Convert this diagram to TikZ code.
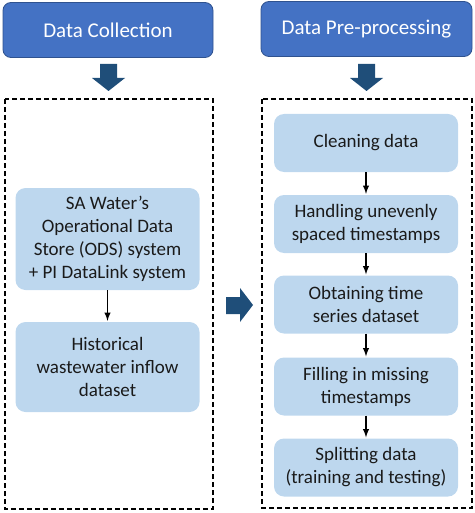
\documentclass[tikz,border=0pt]{standalone}
\usepackage{fontspec}
\setmainfont{Carlito}
\usepackage{tikz}
\usetikzlibrary{arrows}

\definecolor{headblue}{HTML}{4472C4}
\definecolor{headline}{HTML}{2F528F}
\definecolor{arrowblue}{HTML}{1F4E79}
\definecolor{stepfill}{HTML}{BDD7EE}
\definecolor{textdark}{HTML}{1A1A1A}

\tikzset{
  header/.style={rectangle, rounded corners=8pt, fill=headblue, draw=headline,
    line width=0.8pt, text=white, font=\fontsize{21}{25}\selectfont,
    minimum width=210pt, minimum height=55pt, inner sep=0pt},
  stepbox/.style={rectangle, rounded corners=10pt, fill=stepfill, text=textdark,
    font=\fontsize{19}{23}\selectfont, align=center,
    minimum width=184pt, minimum height=58pt, inner sep=0pt},
  frame/.style={dashed, dash pattern=on 5pt off 3pt, line width=1.8pt},
  link/.style={-latex, line width=1.8pt, shorten >=1pt}
}

\begin{document}
\begin{tikzpicture}[x=1pt,y=-1pt]
  \useasboundingbox (0,0) rectangle (474,513);
  % headers
  \node[header] (collect) at (108,30) {Data Collection};
  \node[header, minimum width=211pt] (prep) at (366.5,29) {Data Pre-processing};
  % block arrows
  \fill[arrowblue] (100,64) -- (117,64) -- (117,78) -- (125,78) -- (108.5,91)
    -- (92,78) -- (100,78) -- cycle;
  \fill[arrowblue] (358,64) -- (375,64) -- (375,78) -- (383,78) -- (366.5,91)
    -- (350,78) -- (358,78) -- cycle;
  \fill[arrowblue] (226,297) -- (240,297) -- (240,288) -- (253,305) -- (240,322)
    -- (240,314) -- (226,314) -- cycle;
  % dashed frames
  \draw[frame] (5,99) rectangle (213,509);
  \draw[frame] (262,99) rectangle (472,508);
  % left column
  \node[stepbox, minimum height=102pt] (ods) at (107.5,239)
    {SA Water's\\Operational Data\\Store (ODS) system\\+ PI DataLink system};
  \node[stepbox, minimum height=90pt] (hist) at (107.5,367)
    {Historical\\wastewater inflow\\dataset};
  \draw[link] (ods) -- (hist);
  % right column
  \node[stepbox] (clean) at (366,143) {Cleaning data};
  \node[stepbox] (uneven) at (366,224) {Handling unevenly\\spaced timestamps};
  \node[stepbox] (series) at (366,304.5) {Obtaining time\\series dataset};
  \node[stepbox] (fill) at (366,386.5) {Filling in missing\\timestamps};
  \node[stepbox] (split) at (366,467.5) {Splitting data\\(training and testing)};
  \draw[link] (clean) -- (uneven);
  \draw[link] (uneven) -- (series);
  \draw[link] (series) -- (fill);
  \draw[link] (fill) -- (split);
\end{tikzpicture}
\end{document}
